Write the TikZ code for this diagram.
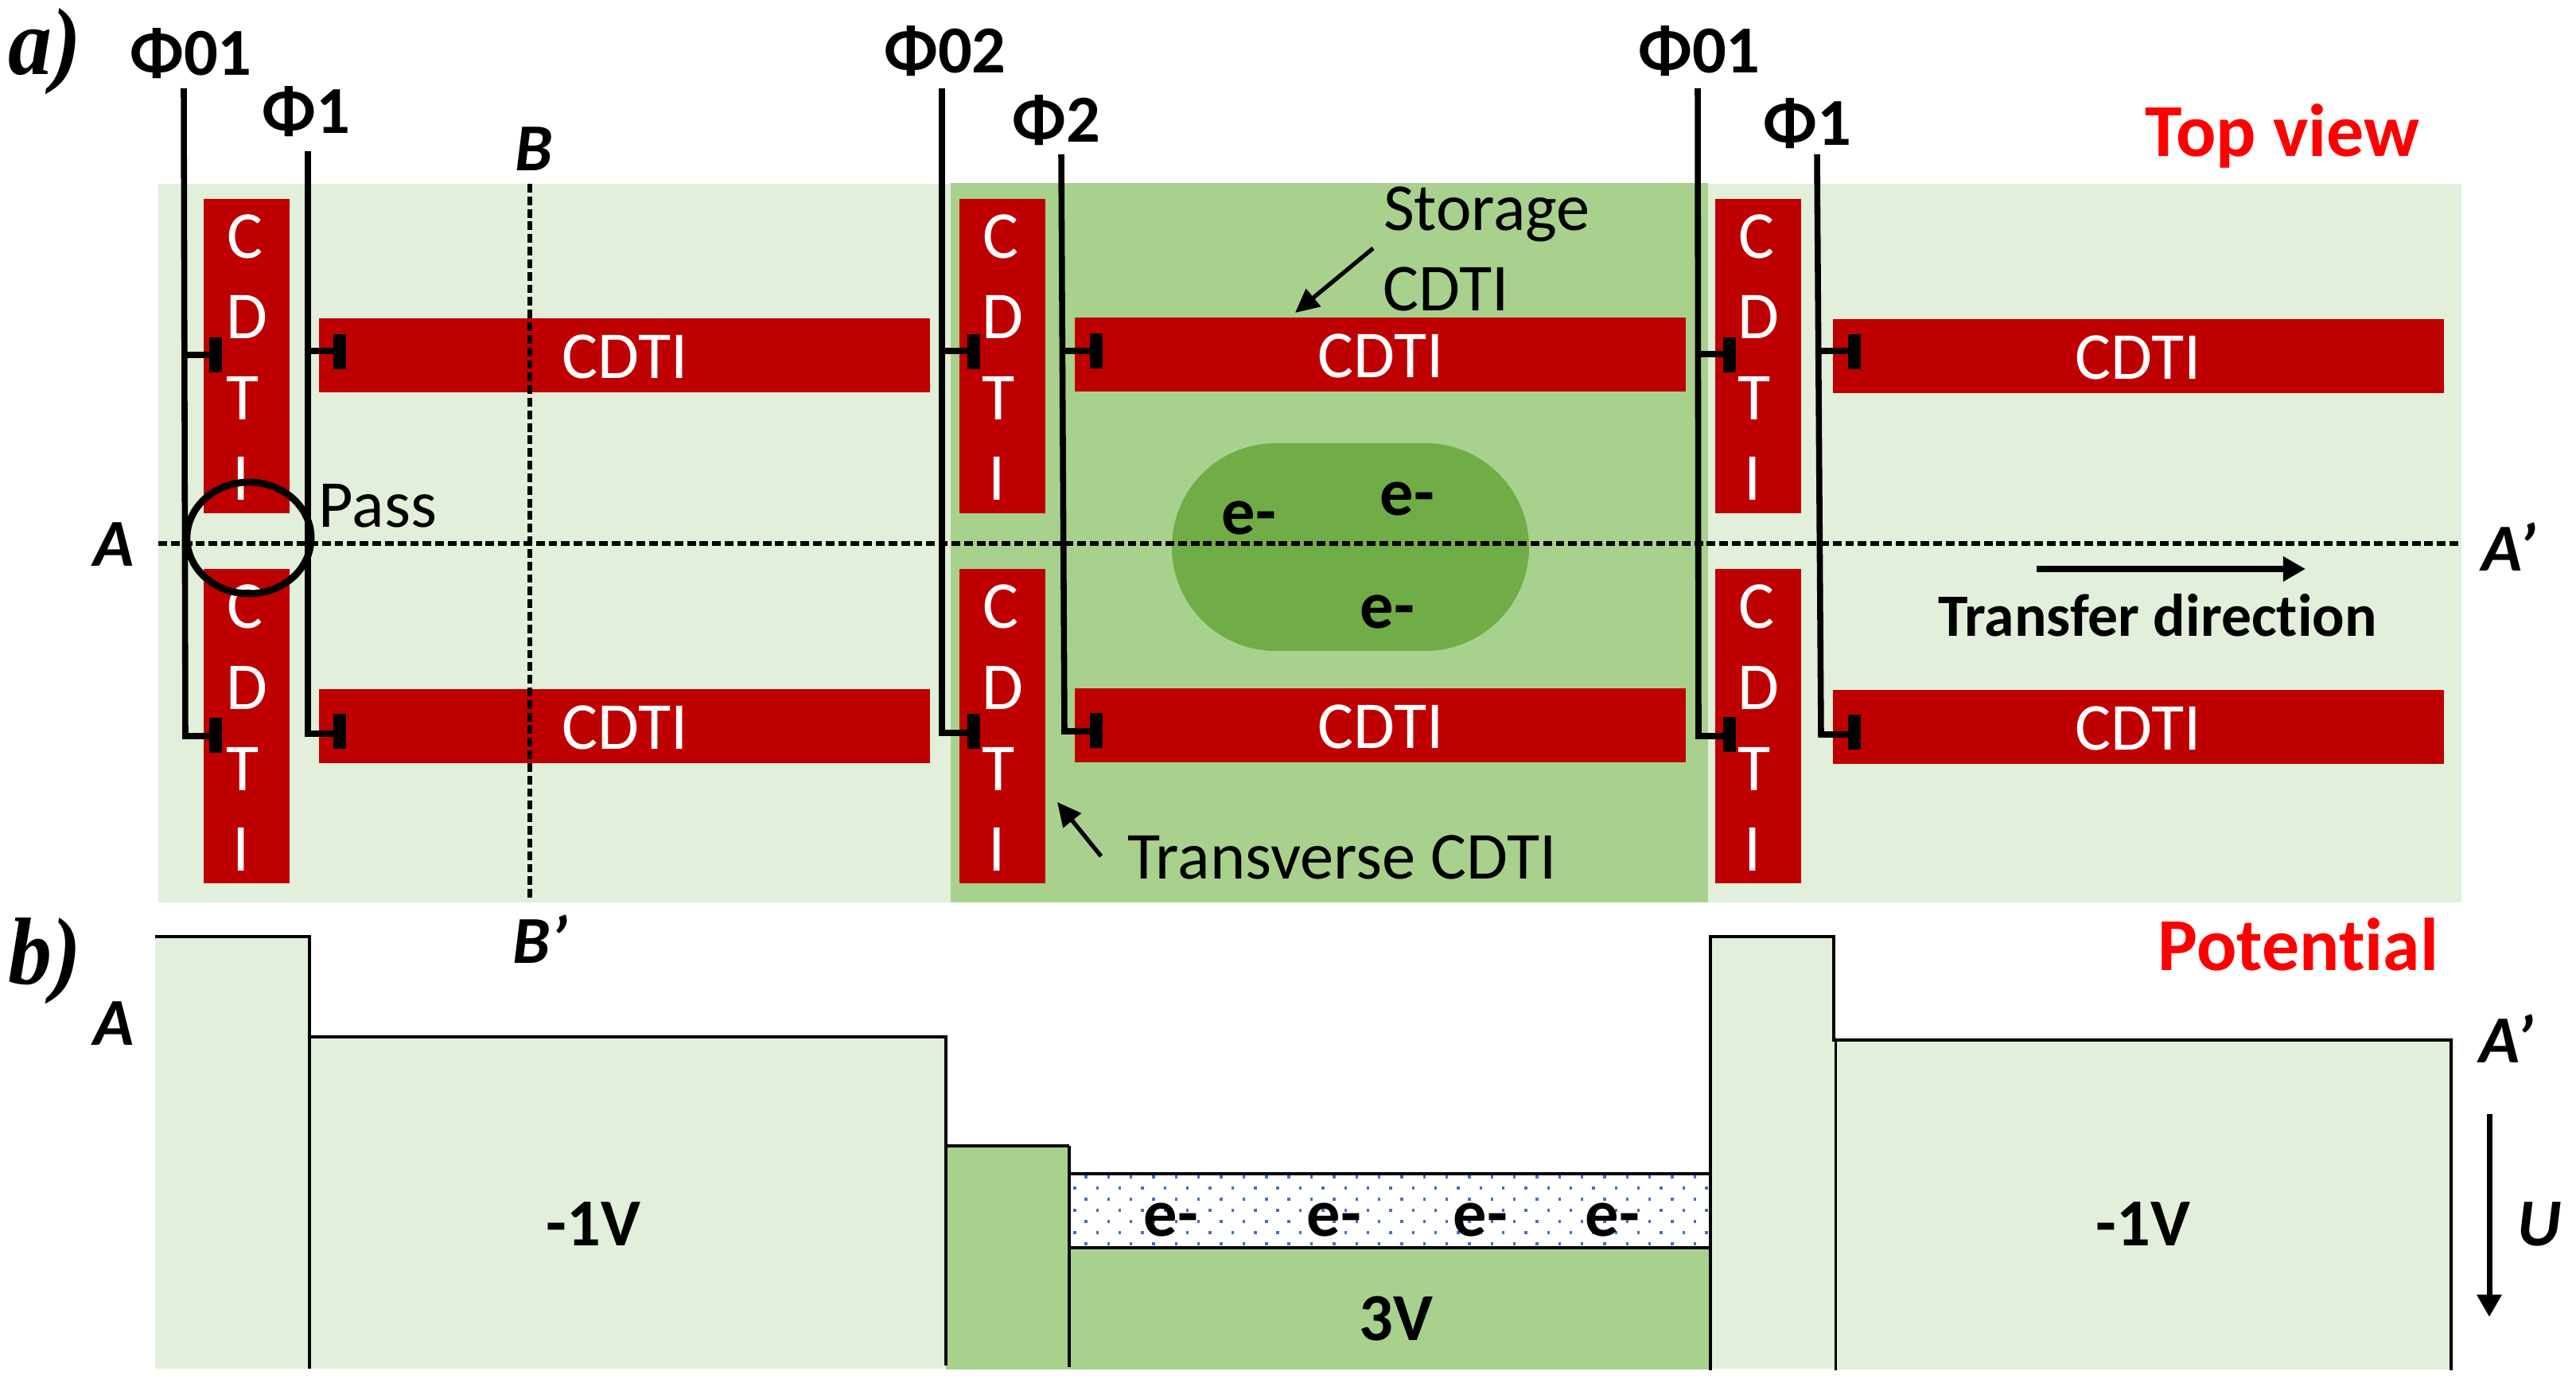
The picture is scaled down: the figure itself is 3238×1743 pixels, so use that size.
\documentclass[tikz,border=0pt]{standalone}
\usepackage{fontspec}
\setmainfont[Ligatures=NoCommon]{Carlito}
\newfontfamily\serifit{Liberation Serif}
\usetikzlibrary{arrows.meta,fit,shapes.geometric}
\definecolor{lightgr}{HTML}{E2EFDA}
\definecolor{midgr}{HTML}{A9D18E}
\definecolor{blobgr}{HTML}{70AD47}
\definecolor{cdtired}{HTML}{BE0000}
\definecolor{dotblue}{HTML}{4472C4}
\definecolor{labred}{HTML}{FF0000}
\newcommand{\sz}[1]{\fontsize{#1}{#1}\selectfont}
\newcommand{\Area}[6]{\node[fit={(#2,#3)(#4,#5)},inner sep=0pt,outer sep=0pt,#6] (#1) {};}
\newcommand{\WireBus}[9]{%
  \coordinate (#1top) at (#2,#3);
  \coordinate (#1bot) at (#4,#5);
  \coordinate (#1tu) at (#7,#6);
  \coordinate (#1tl) at (#7,#5);
  \draw[wire] (#1top) -- (#1bot) -- (#1tl);
  \draw[wire] (#1tu -| #2,0) -- (#1tu);
  \coordinate (#1ua) at (#7,#8);
  \coordinate (#1ub) at (#7,#8+44);
  \coordinate (#1la) at (#7,#9);
  \coordinate (#1lb) at (#7,#9+44);
  \draw[tbar] (#1ua) -- (#1ub);
  \draw[tbar] (#1la) -- (#1lb);
}
\tikzset{
  x=0.01cm,y=-0.01cm,
  wire/.style={line width=2.15pt,black,line join=miter},
  tbar/.style={line width=4.3pt,black},
  cut/.style={line width=1.6pt,black,dash pattern=on 3.1pt off 1.4pt},
  lvl/.style={line width=1.05pt,black},
  lvlthick/.style={line width=1.4pt,black},
  callout/.style={line width=1.5pt,black,-{Triangle[length=8.5pt,width=8pt]}},
  bigarrow/.style={line width=2pt,black,-{Triangle[length=8pt,width=8.5pt]}},
  lab/.style={anchor=base,inner sep=0pt,outer sep=0pt,font=\sz{24}},
  blab/.style={anchor=base,inner sep=0pt,outer sep=0pt,font=\sz{24}\bfseries},
  tdlab/.style={anchor=base,inner sep=0pt,outer sep=0pt,font=\sz{21.5}\bfseries},
  ilab/.style={anchor=base,inner sep=0pt,outer sep=0pt,font=\sz{24}\bfseries\itshape},
  wlab/.style={anchor=base,inner sep=0pt,outer sep=0pt,font=\sz{24},text=white},
  wlet/.style={anchor=center,inner sep=0pt,outer sep=0pt,font=\sz{24},text=white},
  rlab/.style={anchor=base,inner sep=0pt,outer sep=0pt,font=\sz{26.7}\bfseries,text=labred},
  plab/.style={anchor=base,inner sep=0pt,outer sep=0pt,xscale=0.92,font=\serifit\sz{34}\bfseries\itshape},
}
\begin{document}
\begin{tikzpicture}
\useasboundingbox (0,0) rectangle (3238,1743);
% --- top view backgrounds
\Area{bgtop}{199}{231}{3094}{1134}{fill=lightgr}
\Area{bgmid}{1195}{230}{2147}{1134}{fill=midgr}
\node[fit={(1473,557)(1922,818)},inner sep=0pt,outer sep=0pt,rounded corners=130.5*0.2845pt,fill=blobgr] (blob) {};
% --- red CDTI boxes
\foreach \c/\dx in {a/0,b/950,c/1900}{
  \Area{vu\c}{256+\dx}{250}{364+\dx}{645}{fill=cdtired}
  \Area{vl\c}{256+\dx}{715}{364+\dx}{1110}{fill=cdtired}
  \node[wlet] (cu\c) at (308+\dx,297) {C};
  \node[wlet] (du\c) at (310+\dx,398) {D};
  \node[wlet] (tu\c) at (305+\dx,500) {T};
  \node[wlet] (iu\c) at (303+\dx,601) {I};
  \node[wlet] (cl\c) at (308+\dx,762) {C};
  \node[wlet] (dl\c) at (310+\dx,864) {D};
  \node[wlet] (tl\c) at (305+\dx,966) {T};
  \node[wlet] (il\c) at (303+\dx,1067) {I};
}
\Area{hua}{401}{400}{1169}{493}{fill=cdtired}
\Area{hla}{401}{866}{1169}{959}{fill=cdtired}
\Area{hub}{1351}{399}{2119}{492}{fill=cdtired}
\Area{hlb}{1351}{865}{2119}{958}{fill=cdtired}
\Area{huc}{2304}{401}{3072}{494}{fill=cdtired}
\Area{hlc}{2304}{867}{3072}{960}{fill=cdtired}
\node[wlab] (lhua) at (786,476) {CDTI};
\node[wlab] (lhla) at (786,942) {CDTI};
\node[wlab] (lhub) at (1736,475) {CDTI};
\node[wlab] (lhlb) at (1736,941) {CDTI};
\node[wlab] (lhuc) at (2688,477) {CDTI};
\node[wlab] (lhlc) at (2688,943) {CDTI};
% --- section lines
\coordinate (Aend) at (199,683);
\coordinate (Apend) at (3090,683);
\coordinate (Bend) at (666,231);
\coordinate (Bpend) at (666,1131);
\draw[cut] (Aend) -- (Apend);
\draw[cut] (Bend) -- (Bpend);
% --- electrode wires
\WireBus{wa}{231}{111}{233}{925}{446}{271}{424}{902}
\WireBus{wb}{387}{190}{387}{922}{441}{427}{420}{897}
\WireBus{wc}{1184}{111}{1184}{921}{441}{1224}{420}{897}
\WireBus{wd}{1334}{194}{1338}{919}{441}{1378}{419}{896}
\WireBus{we}{2134}{111}{2135}{925}{445}{2174}{424}{901}
\WireBus{wf}{2284}{194}{2289}{923}{441}{2331}{420}{898}
% --- pass ellipse
\node[ellipse,draw=black,line width=2.5pt,minimum width=156*0.2845pt,minimum height=140*0.2845pt,inner sep=0pt] (pass) at (313,676) {};
% --- labels top
\node[plab] (pa) at (56,94) {a)};
\node[blab] (p01a) at (240,95) {Φ01};
\node[blab] (p1a) at (385,168) {Φ1};
\node[blab] (p02) at (1188,92) {Φ02};
\node[blab] (p2) at (1328,179) {Φ2};
\node[blab] (p01b) at (2136,92) {Φ01};
\node[blab] (p1b) at (2272,183) {Φ1};
\node[ilab] (lB) at (671,215) {B};
\node[ilab] (lA) at (143,712) {A};
\node[ilab] (lAp) at (3153,718) {A’};
\node[ilab] (lBp) at (679,1211) {B’};
\node[rlab] (ltv) at (2869,197) {Top view};
\node[lab] (lpass) at (475,663) {Pass};
\node[lab] (lst) at (1869,290) {Storage};
\node[lab] (lsc) at (1818,391) {CDTI};
\node[lab] (ltr) at (1687,1104) {Transverse CDTI};
\node[blab] (e1) at (1570,672) {e-};
\node[blab] (e2) at (1769,648) {e-};
\node[blab] (e3) at (1744,790) {e-};
\coordinate (sa) at (1726,312);
\coordinate (sb) at (1628,393);
\draw[callout] (sa) -- (sb);
\coordinate (ta) at (1384,1076);
\coordinate (tb) at (1329,1008);
\draw[callout] (ta) -- (tb);
\coordinate (tda) at (2560,715);
\coordinate (tdb) at (2898,715);
\draw[bigarrow] (tda) -- (tdb);
\node[tdlab] (ltd) at (2712,800) {Transfer direction};
% --- potential profile
\node[plab] (pb) at (56,1236) {b)};
\node[rlab] (lpot) at (2889,1219) {Potential};
\Area{p1}{195}{1177}{389}{1720}{fill=lightgr}
\Area{p2a}{389}{1303}{1189}{1720}{fill=lightgr}
\Area{p3}{1189}{1440}{1344}{1721}{fill=midgr}
\Area{p4}{1344}{1568}{2150}{1721}{fill=midgr}
\Area{p5}{2150}{1177}{2305}{1720}{fill=lightgr}
\Area{p6}{2305}{1303}{3084}{1721}{fill=lightgr}
\foreach \r in {0,2,4,6}{
  \foreach \k in {0,...,27}{
    \fill[dotblue] (1365+28.35*\k-1.7,1479+14*\r-1.7) rectangle ++(3.4,3.4);
  }
}
\foreach \r in {1,3,5}{
  \foreach \k in {0,...,28}{
    \fill[dotblue] (1351+28.35*\k-1.7,1479+14*\r-1.7) rectangle ++(3.4,3.4);
  }
}
\coordinate (q0) at (195,1177);
\coordinate (q1) at (389,1177);
\coordinate (q2) at (389,1303);
\coordinate (q3) at (1189,1303);
\coordinate (q4) at (1189,1716);
\coordinate (q5) at (1189,1440);
\coordinate (q6) at (1344,1440);
\coordinate (q7) at (1344,1718);
\coordinate (q8) at (1344,1475);
\coordinate (q9) at (2150,1475);
\coordinate (q10) at (1344,1568);
\coordinate (q11) at (2150,1568);
\coordinate (q12) at (2150,1722);
\coordinate (q13) at (2150,1177);
\coordinate (q14) at (2305,1177);
\coordinate (q15) at (2305,1307);
\coordinate (q16) at (3081,1307);
\coordinate (q17) at (3081,1722);
\coordinate (q18) at (2307.5,1307);
\coordinate (q19) at (2307.5,1722);
\coordinate (q20) at (389,1720);
\draw[lvl] (q0) -- (q1) -- (q20);
\draw[lvl] (q2) -- (q3) -- (q4);
\draw[lvlthick] (q5) -- (q6);
\draw[lvl] (q6) -- (q7);
\draw[lvlthick] (q8) -- (q9);
\draw[lvlthick] (q10) -- (q11);
\draw[lvl] (q12) -- (q13) -- (q14) -- (q15) -- (q16) -- (q17);
\draw[lvl] (q18) -- (q19);
\node[blab] (e4) at (1472,1553) {e-};
\node[blab] (e5) at (1677,1553) {e-};
\node[blab] (e6) at (1861,1553) {e-};
\node[blab] (e7) at (2027,1553) {e-};
\node[blab] (v3) at (1755,1684) {3V};
\node[blab] (v1a) at (746,1565) {-1V};
\node[blab] (v1b) at (2694,1565) {-1V};
\node[ilab] (lA2) at (143,1313) {A};
\node[ilab] (lAp2) at (3150,1335) {A’};
\node[ilab] (lU) at (3192,1565) {U};
\coordinate (ua) at (3129,1400);
\coordinate (ub) at (3129,1655);
\draw[bigarrow] (ua) -- (ub);
\end{tikzpicture}
\end{document}
